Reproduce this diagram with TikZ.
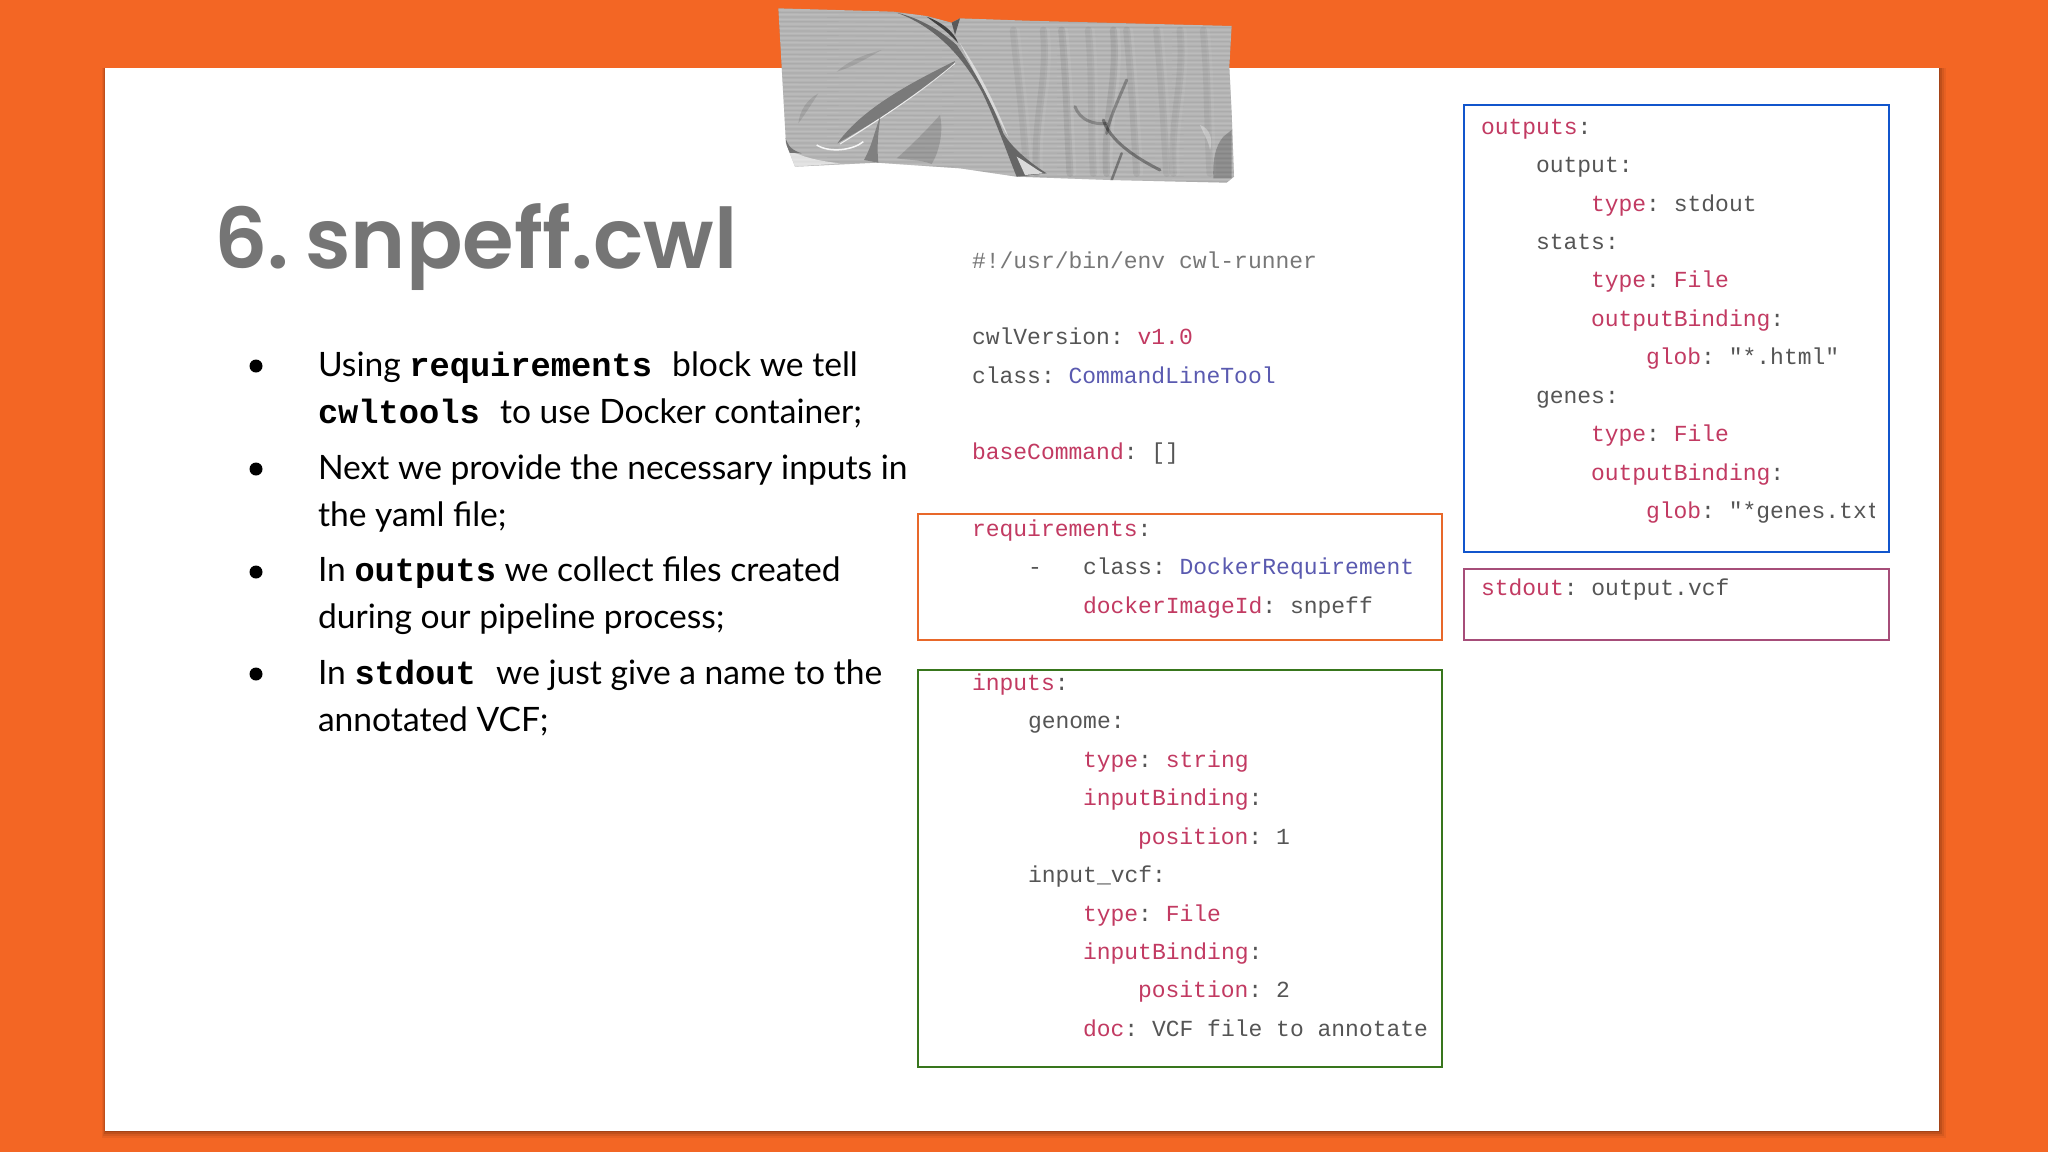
\documentclass[tikz,border=0pt]{standalone}
\usepackage{fontspec}
\setmainfont{Lato}
\newfontfamily\codefont{Liberation Mono}
\newfontfamily\boldmono{Liberation Mono}[Scale=1.0]
\newfontfamily\titlefont{Poppins}[UprightFont=* SemiBold]
\definecolor{slidebg}{HTML}{F36624}
\definecolor{keyc}{HTML}{C23A62}
\definecolor{valc}{HTML}{5A5AB0}
\definecolor{txtc}{HTML}{555555}
\definecolor{cmtc}{HTML}{777777}
\definecolor{orangebox}{HTML}{E8682A}
\definecolor{greenbox}{HTML}{38761D}
\definecolor{bluebox}{HTML}{1155CC}
\definecolor{pinkbox}{HTML}{A64D79}
\definecolor{titlec}{HTML}{757575}
\newcommand{\K}[1]{\textcolor{keyc}{#1}}
\newcommand{\V}[1]{\textcolor{valc}{#1}}
\newcommand{\M}[1]{{\fontsize{33.7pt}{40pt}\boldmono\bfseries #1}}
\tikzset{
  codeline/.style={anchor=base west,inner sep=0pt,outer sep=0pt,text=txtc,font=\fontsize{23pt}{28pt}\codefont\frenchspacing},
  bodyline/.style={anchor=base west,inner sep=0pt,outer sep=0pt,text=black,font=\fontsize{33.6pt}{42pt}\selectfont},
  framebox/.style={draw=#1,line width=2pt,fill=none,inner sep=0pt,outer sep=0pt},
  bulletdot/.style={circle,fill=black,inner sep=0pt,minimum size=13pt}
}
\begin{document}
\begin{tikzpicture}[x=1pt,y=-1pt]
\useasboundingbox (0,0) rectangle (2048,1152);
\fill[slidebg] (0,0) rectangle (2048,1152);
% shadow and slide
\foreach \d/\o in {7/.05,5/.07,3/.10,1/.14}
  \fill[black,opacity=\o] (105-\d/2,68) rectangle (1939+\d,1131+\d);
\fill[white] (105,68) rectangle (1939,1131);

% tape
\begin{scope}[shift={(760pt,0pt)},x=0.33333pt,y=-0.33333pt]
\path[save path=\tapeoutline] (55,25) -- (400,35) -- (500,48) -- (575,68) -- (600,55) -- (800,62) -- (1415,78) -- (1408,200) -- (1415,340) -- (1422,530) -- (1400,548) -- (1050,540) -- (770,530) -- (600,505) -- (350,488) -- (105,500) -- (78,430) -- cycle;
\fill[black,opacity=.10,shift={(3pt,3pt)},use path=\tapeoutline];
\fill[black!29,use path=\tapeoutline];
\begin{scope}
\clip[use path=\tapeoutline];
\foreach \yy in {30,44,...,550}{
  \draw[white,opacity=.10,line width=1.2pt] (50,\yy) -- (1430,\yy+4);
  \draw[black,opacity=.05,line width=1.2pt] (50,\yy+7) -- (1430,\yy+11);
}
% vertical wrinkles on right part
\foreach \xa/\xb/\o in {760/800/.05,850/830/.06,905/930/.07,985/1000/.05,1060/1040/.08,1100/1130/.06,1190/1220/.05,1260/1240/.05,1330/1350/.05}{
  \draw[black,opacity=\o,line width=7pt,line cap=round] (\xa,90) .. controls (\xa+15,250) and (\xb-10,350) .. (\xb,520);
  \draw[white,opacity=\o,line width=5pt,line cap=round] (\xa+12,90) .. controls (\xa+27,250) and (\xb+2,350) .. (\xb+12,520);
}
% soft left marks
\fill[black,opacity=.10] (230,215) .. controls (270,180) and (310,165) .. (365,150) .. controls (320,175) and (280,200) .. cycle;
\fill[black,opacity=.10] (115,370) .. controls (120,330) and (140,300) .. (175,280) .. controls (150,320) and (130,350) .. cycle;
\fill[black,opacity=.14] (410,475) .. controls (450,440) and (500,390) .. (540,345) .. controls (552,400) and (535,460) .. (515,492) .. controls (480,478) and (440,480) .. cycle;
% bottom-left light curl
\fill[white,opacity=.6] (85,450) .. controls (120,465) and (150,480) .. (240,490) -- (105,500) -- cycle;
\fill[black!55] (75,410) .. controls (85,440) and (95,450) .. (125,460) -- (85,458) -- cycle;
% long main fold
\fill[black!60] (410,38) .. controls (480,55) and (540,90) .. (590,135) .. controls (640,210) and (690,290) .. (730,400) .. controls (760,450) and (820,495) .. (860,520) -- (770,530) .. controls (745,470) and (715,380) .. (668,280) .. controls (620,190) and (540,85) .. cycle;
\fill[white,opacity=.5] (600,130) .. controls (660,220) and (700,300) .. (745,410) .. controls (735,400) and (690,300) .. (640,210) -- cycle;
\fill[black!75] (500,50) .. controls (540,65) and (580,90) .. (595,130) -- (575,110) .. controls (550,85) and (525,70) .. cycle;
\fill[black!15] (770,470) .. controls (790,480) and (830,510) .. (850,520) -- (795,525) -- cycle;
\fill[black!65] (575,68) -- (600,55) -- (585,105) -- cycle;
% diagonal fold
\fill[black!52] (585,183) .. controls (470,240) and (310,320) .. (232,430) .. controls (330,375) and (480,280) .. (580,197) -- cycle;
\draw[white,opacity=.8,line width=1pt] (585,190) .. controls (480,280) and (340,370) .. (240,432);
\fill[black!50] (362,345) .. controls (345,390) and (335,440) .. (312,480) -- (355,488) .. controls (350,440) and (355,390) .. cycle;
\draw[white,opacity=.9,line width=1.5pt] (170,435) .. controls (210,460) and (280,450) .. (310,425);
% right side folds
\draw[black,opacity=.25,line width=3pt,line cap=round] (945,320) .. controls (960,360) and (1000,375) .. (1040,370);
\draw[black,opacity=.35,line width=3pt,line cap=round] (1030,360) .. controls (1050,420) and (1120,470) .. (1200,510);
\draw[black,opacity=.28,line width=3pt,line cap=round] (1100,240) .. controls (1075,300) and (1050,350) .. (1040,400);
\draw[black,opacity=.35,line width=2.5pt,line cap=round] (1085,460) -- (1055,540);
\fill[black,opacity=.22] (1390,410) .. controls (1365,440) and (1358,480) .. (1360,535) -- (1415,535) -- (1415,390) -- cycle;
\fill[white,opacity=.3] (1320,375) .. controls (1350,385) and (1360,420) .. (1350,450) .. controls (1345,420) and (1330,400) .. cycle;
\end{scope}
\end{scope}

% title
\node[anchor=base west,inner sep=0pt,text=titlec,font=\fontsize{83.5pt}{96pt}\titlefont] (title) at (214,268) {6.\hspace{16pt}snpeff.cwl};

% bullets
\foreach \n/\yy in {a/366,b/469,c/572,d/674}
  \node[bulletdot] (dot\n) at (256,\yy) {};
\node[bodyline] (l1) at (318,376) {Using \M{requirements\ }block we tell};
\node[bodyline] (l2) at (318,423) {\M{cwltools\ }to use Docker container;};
\node[bodyline] (l3) at (318,479) {Next we provide the necessary inputs in};
\node[bodyline] (l4) at (318,526) {the yaml file;};
\node[bodyline] (l5) at (318,581) {In \M{outputs} we collect files created};
\node[bodyline] (l6) at (318,628) {during our pipeline process;};
\node[bodyline] (l7) at (318,684) {In \M{stdout\ }we just give a name to the};
\node[bodyline] (l8) at (318,731) {annotated VCF;};

% frames
\draw[framebox=orangebox] (918,514) rectangle (1441.5,640);
\draw[framebox=greenbox] (918,669.5) rectangle (1441.5,1066.5);
\draw[framebox=bluebox] (1463.5,104.5) rectangle (1888.5,552);
\draw[framebox=pinkbox] (1463.5,568.5) rectangle (1888.5,640);

% left code
\node[codeline,text=cmtc] (c1) at (972,268) {\#!/usr/bin/env cwl-runner};
\node[codeline] (c2) at (972,344) {cwlVersion: \K{v1.0}};
\node[codeline] (c3) at (972,383) {class: \V{CommandLineTool}};
\node[codeline] (c4) at (972,459) {\K{baseCommand}: []};
\node[codeline] (c5) at (972,536) {\K{requirements}:};
\node[codeline] (c6a) at (1028,574) {-};
\node[codeline] (c6) at (1083,574) {class: \V{DockerRequirement}};
\node[codeline] (c7) at (1083,613) {\K{dockerImageId}: snpeff};
\node[codeline] (c8) at (972,690) {\K{inputs}:};
\node[codeline] (c9) at (1028,728) {genome:};
\node[codeline] (c10) at (1083,767) {\K{type}: \K{string}};
\node[codeline] (c11) at (1083,805) {\K{inputBinding}:};
\node[codeline] (c12) at (1138,844) {\K{position}: 1};
\node[codeline] (c13) at (1028,882) {input\_vcf:};
\node[codeline] (c14) at (1083,921) {\K{type}: \K{File}};
\node[codeline] (c15) at (1083,959) {\K{inputBinding}:};
\node[codeline] (c16) at (1138,997) {\K{position}: 2};
\node[codeline] (c17) at (1083,1036) {\K{doc}: VCF file to annotate};

% right code
\node[codeline] (r1) at (1481,134) {\K{outputs}:};
\node[codeline] (r2) at (1536,172) {output:};
\node[codeline] (r3) at (1591,211) {\K{type}: stdout};
\node[codeline] (r4) at (1536,249) {stats:};
\node[codeline] (r5) at (1591,287) {\K{type}: \K{File}};
\node[codeline] (r6) at (1591,326) {\K{outputBinding}:};
\node[codeline] (r7) at (1646,364) {\K{glob}: "*.html"};
\node[codeline] (r8) at (1536,403) {genes:};
\node[codeline] (r9) at (1591,441) {\K{type}: \K{File}};
\node[codeline] (r10) at (1591,480) {\K{outputBinding}:};
\begin{scope}
\clip (1600,490) rectangle (1874,540);
\node[codeline] (r11) at (1646,518) {\K{glob}: "*genes.txt"};
\end{scope}
\node[codeline] (r12) at (1481,595) {\K{stdout}: output.vcf};
\end{tikzpicture}
\end{document}
